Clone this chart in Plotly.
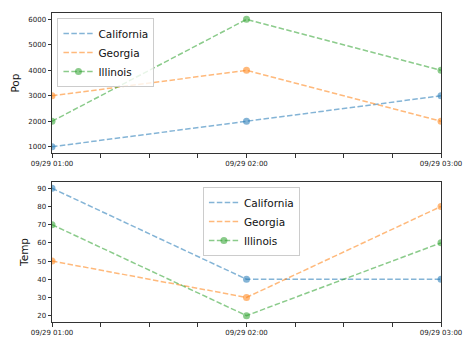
import plotly.graph_objects as go
from plotly.subplots import make_subplots

times = ["2021-09-29 01:00", "2021-09-29 02:00", "2021-09-29 03:00"]
states = ["California", "Georgia", "Illinois"]
pop = {"California": [1000, 2000, 3000],
       "Georgia": [3000, 4000, 2000],
       "Illinois": [2000, 6000, 4000]}
temp = {"California": [90, 40, 40],
        "Georgia": [50, 30, 80],
        "Illinois": [70, 20, 60]}
colors = {"California": "rgba(31,119,180,0.55)",
          "Georgia": "rgba(255,127,14,0.55)",
          "Illinois": "rgba(44,160,44,0.55)"}
legend_markers = {"California": False, "Georgia": False, "Illinois": True}

tickvals = ["2021-09-29 01:00", "2021-09-29 01:15", "2021-09-29 01:30", "2021-09-29 01:45",
            "2021-09-29 02:00", "2021-09-29 02:15", "2021-09-29 02:30", "2021-09-29 02:45",
            "2021-09-29 03:00"]
ticktext = ["09/29 01:00", "", "", "", "09/29 02:00", "", "", "", "09/29 03:00"]

fig = make_subplots(rows=2, cols=1, vertical_spacing=0.09)

DASH = "5.5px,2.4px"
for row, data, leg in [(1, pop, "legend"), (2, temp, "legend2")]:
    for s in states:
        c = colors[s]
        if legend_markers[s]:
            fig.add_trace(go.Scatter(x=times, y=data[s], name=s, mode="lines+markers",
                                     line=dict(color=c, dash=DASH, width=1.5),
                                     marker=dict(color=c, size=7),
                                     legend=leg), row=row, col=1)
        else:
            fig.add_trace(go.Scatter(x=times, y=data[s], name=s, mode="lines",
                                     line=dict(color=c, dash=DASH, width=1.5),
                                     legend=leg), row=row, col=1)
            fig.add_trace(go.Scatter(x=times, y=data[s], name=s, mode="markers",
                                     marker=dict(color=c, size=7), showlegend=False,
                                     legend=leg), row=row, col=1)

axis_common = dict(showline=True, linecolor="#333", linewidth=1, mirror=True,
                   ticks="outside", ticklen=3.5, tickcolor="#333", showgrid=False,
                   zeroline=False, tickfont=dict(size=7, family="DejaVu Sans", color="#222"))

fig.update_xaxes(range=[times[0], times[-1]], tickvals=tickvals, ticktext=ticktext, **axis_common)
fig.update_yaxes(**axis_common)
fig.update_yaxes(range=[750, 6250], tickvals=[1000, 2000, 3000, 4000, 5000, 6000],
                 title=dict(text="Pop", font=dict(size=10.5, family="DejaVu Sans", color="#111"), standoff=6),
                 row=1, col=1)
fig.update_yaxes(range=[16.5, 93.5], tickvals=[20, 30, 40, 50, 60, 70, 80, 90],
                 title=dict(text="Temp", font=dict(size=10.5, family="DejaVu Sans", color="#111"), standoff=6),
                 row=2, col=1)

fig.update_layout(
    width=474, height=349,
    margin=dict(l=52, r=32, t=13, b=25),
    plot_bgcolor="white", paper_bgcolor="white",
    yaxis=dict(domain=[0.5466, 1.0]),
    yaxis2=dict(domain=[0.0, 0.4534]),
    legend=dict(x=0.014, y=0.984, xanchor="left", yanchor="top",
                bgcolor="rgba(255,255,255,0.8)", bordercolor="#ccc", borderwidth=1,
                font=dict(size=10.5, family="DejaVu Sans", color="#111"),
                itemwidth=30, tracegroupgap=0),
    legend2=dict(x=0.388, y=0.437, xanchor="left", yanchor="top",
                 bgcolor="rgba(255,255,255,0.8)", bordercolor="#ccc", borderwidth=1,
                 font=dict(size=10.5, family="DejaVu Sans", color="#111"),
                 itemwidth=30, tracegroupgap=0),
)

fig.write_html("out.html")
